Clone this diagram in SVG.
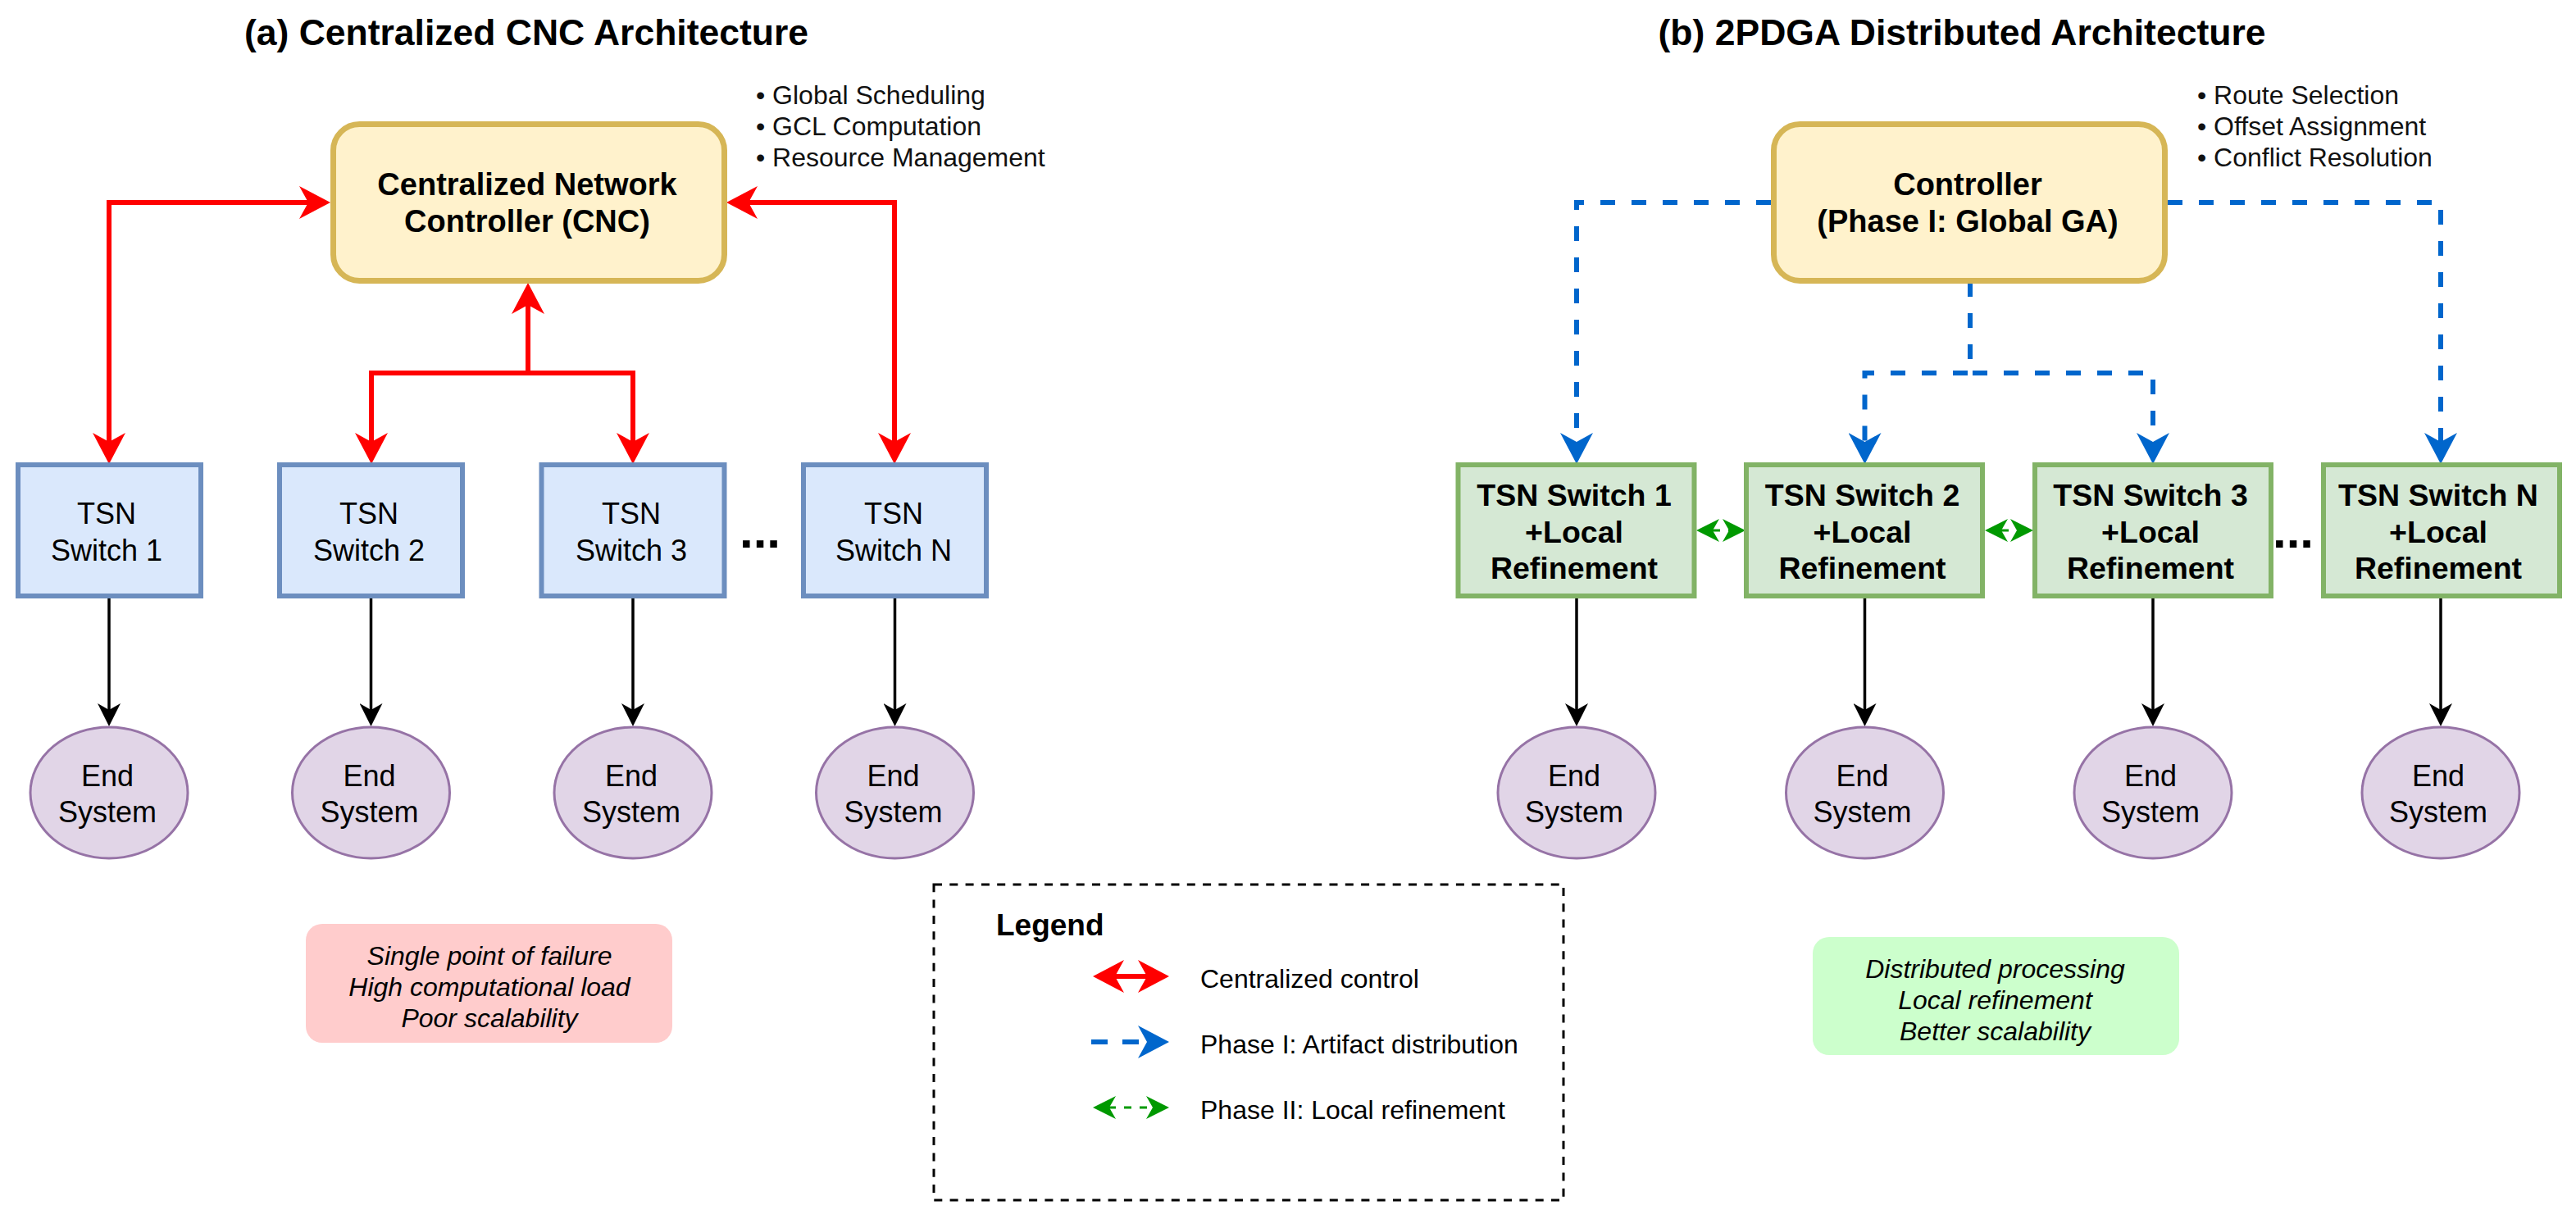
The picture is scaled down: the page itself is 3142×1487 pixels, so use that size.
<svg xmlns="http://www.w3.org/2000/svg" width="3142" height="1487" viewBox="0 0 3142 1487">
<style>
text{font-family:"Liberation Sans",Arial,sans-serif;fill:#000;text-anchor:middle}
.title{font-size:44.5px;font-weight:bold}
.ctrl{fill:#fff2cc;stroke:#d6b656;stroke-width:7}
.ctrlt{font-size:38px;font-weight:bold}
.bul{font-size:32px;text-anchor:start;fill:#111}
.sw{fill:#dae8fc;stroke:#6c8ebf;stroke-width:6}
.sw2{fill:#d5e8d4;stroke:#82b366;stroke-width:6}
.t{font-size:36px}
.tb{font-size:37.5px;font-weight:bold}
.es{fill:#e1d5e7;stroke:#9673a6;stroke-width:3}
.dots{font-size:60px;font-weight:bold;text-anchor:start}
.note{font-size:32px;font-style:italic}
.leg{font-size:32px;text-anchor:start}
.c{fill:none}
.red{stroke:#ff0000;stroke-width:6;marker-end:url(#mr)}
.blue{stroke:#0066cc;stroke-width:6;stroke-dasharray:18 20;marker-end:url(#mb)}
.black{stroke:#000;stroke-width:3.5;marker-end:url(#mk)}
.green{stroke:#009900;stroke-width:3;stroke-dasharray:9 10;marker-end:url(#mg);marker-start:url(#mg)}
.both{marker-start:url(#mr)}
</style>
<defs>
<marker id="mr" markerUnits="userSpaceOnUse" markerWidth="38" markerHeight="40" refX="11" refY="20" orient="auto-start-reverse"><path d="M0,0L38,20L0,40L11,20Z" fill="#ff0000"/></marker>
<marker id="mb" markerUnits="userSpaceOnUse" markerWidth="38" markerHeight="40" refX="11" refY="20" orient="auto-start-reverse"><path d="M0,0L38,20L0,40L11,20Z" fill="#0066cc"/></marker>
<marker id="mk" markerUnits="userSpaceOnUse" markerWidth="28" markerHeight="28" refX="8" refY="14" orient="auto-start-reverse"><path d="M0,0L28,14L0,28L8,14Z" fill="#000"/></marker>
<marker id="mg" markerUnits="userSpaceOnUse" markerWidth="28" markerHeight="28" refX="8" refY="14" orient="auto-start-reverse"><path d="M0,0L28,14L0,28L8,14Z" fill="#009900"/></marker>
</defs>
<rect width="3142" height="1487" fill="#fff"/>
<text class="title" x="642" y="55">(a) Centralized CNC Architecture</text>
<text class="title" x="2393" y="55">(b) 2PDGA Distributed Architecture</text>

<g id="connectors">
<g id="conn-a">
<path class="c red both" d="M133,539V247H376"/>
<path class="c red both" d="M1091,539V247H913"/>
<path class="c red" d="M644,455V372"/>
<path class="c red" d="M644,455H453V539"/>
<path class="c red" d="M644,455H772V539"/>
<path class="c black" d="M133,728V866"/>
<path class="c black" d="M452.500,728V866"/>
<path class="c black" d="M772,728V866"/>
<path class="c black" d="M1091.500,728V866"/>
</g>
<g id="conn-b">
<path class="c blue" d="M2160,247H1923V539"/>
<path class="c blue" d="M2644,247H2977V539"/>
<path class="c blue" d="M2403,344V455H2274.500V539"/>
<path class="c blue" d="M2403,344V455H2626V539"/>
<path class="c black" d="M1923,728V866"/>
<path class="c black" d="M2274.500,728V866"/>
<path class="c black" d="M2626,728V866"/>
<path class="c black" d="M2977,728V866"/>
<path class="c green" d="M2089,647H2109"/>
<path class="c green" d="M2441,647H2460"/>
</g>
</g>

<g id="cnc"><rect class="ctrl" x="406.500" y="151.500" width="477" height="191" rx="32"/>
<text class="ctrlt" x="643" y="238">Centralized Network</text><text class="ctrlt" x="643" y="283">Controller (CNC)</text></g>
<g id="cnc-notes"><text class="bul" x="922" y="127">• Global Scheduling</text><text class="bul" x="922" y="165">• GCL Computation</text><text class="bul" x="922" y="203">• Resource Management</text></g>

<g id="a-sw1"><rect class="sw" x="22" y="567" width="223" height="160"/><text class="t" x="130" y="639">TSN</text><text class="t" x="130" y="684">Switch 1</text></g>
<g id="a-sw2"><rect class="sw" x="341" y="567" width="223" height="160"/><text class="t" x="450" y="639">TSN</text><text class="t" x="450" y="684">Switch 2</text></g>
<g id="a-sw3"><rect class="sw" x="660.500" y="567" width="223" height="160"/><text class="t" x="770" y="639">TSN</text><text class="t" x="770" y="684">Switch 3</text></g>
<g id="a-swn"><rect class="sw" x="980" y="567" width="223" height="160"/><text class="t" x="1090" y="639">TSN</text><text class="t" x="1090" y="684">Switch N</text></g>
<text class="dots" x="902" y="668">...</text>

<g id="a-es1"><ellipse class="es" cx="133" cy="967" rx="96" ry="80"/><text class="t" x="131" y="959">End</text><text class="t" x="131" y="1003">System</text></g>
<g id="a-es2"><ellipse class="es" cx="452.500" cy="967" rx="96" ry="80"/><text class="t" x="450.500" y="959">End</text><text class="t" x="450.500" y="1003">System</text></g>
<g id="a-es3"><ellipse class="es" cx="772" cy="967" rx="96" ry="80"/><text class="t" x="770" y="959">End</text><text class="t" x="770" y="1003">System</text></g>
<g id="a-esn"><ellipse class="es" cx="1091.500" cy="967" rx="96" ry="80"/><text class="t" x="1089.500" y="959">End</text><text class="t" x="1089.500" y="1003">System</text></g>

<g id="controller"><rect class="ctrl" x="2163.500" y="151.500" width="477" height="191" rx="32"/>
<text class="ctrlt" x="2400" y="238">Controller</text><text class="ctrlt" x="2400" y="283">(Phase I: Global GA)</text></g>
<g id="controller-notes"><text class="bul" x="2680" y="127">• Route Selection</text><text class="bul" x="2680" y="165">• Offset Assignment</text><text class="bul" x="2680" y="203">• Conflict Resolution</text></g>

<g id="b-sw1"><rect class="sw2" x="1778.500" y="567" width="288" height="160"/><text class="tb" x="1920" y="617">TSN Switch 1</text><text class="tb" x="1920" y="662">+Local</text><text class="tb" x="1920" y="706">Refinement</text></g>
<g id="b-sw2"><rect class="sw2" x="2130" y="567" width="288" height="160"/><text class="tb" x="2271.500" y="617">TSN Switch 2</text><text class="tb" x="2271.500" y="662">+Local</text><text class="tb" x="2271.500" y="706">Refinement</text></g>
<g id="b-sw3"><rect class="sw2" x="2482" y="567" width="288" height="160"/><text class="tb" x="2623" y="617">TSN Switch 3</text><text class="tb" x="2623" y="662">+Local</text><text class="tb" x="2623" y="706">Refinement</text></g>
<g id="b-swn"><rect class="sw2" x="2834" y="567" width="288" height="160"/><text class="tb" x="2974" y="617">TSN Switch N</text><text class="tb" x="2974" y="662">+Local</text><text class="tb" x="2974" y="706">Refinement</text></g>
<text class="dots" x="2772" y="668">...</text>

<g id="b-es1"><ellipse class="es" cx="1923" cy="967" rx="96" ry="80"/><text class="t" x="1920" y="959">End</text><text class="t" x="1920" y="1003">System</text></g>
<g id="b-es2"><ellipse class="es" cx="2274.500" cy="967" rx="96" ry="80"/><text class="t" x="2271.500" y="959">End</text><text class="t" x="2271.500" y="1003">System</text></g>
<g id="b-es3"><ellipse class="es" cx="2626" cy="967" rx="96" ry="80"/><text class="t" x="2623" y="959">End</text><text class="t" x="2623" y="1003">System</text></g>
<g id="b-esn"><ellipse class="es" cx="2977" cy="967" rx="96" ry="80"/><text class="t" x="2974" y="959">End</text><text class="t" x="2974" y="1003">System</text></g>

<g id="note-a"><rect x="373" y="1127" width="447" height="145" rx="20" fill="#ffcccc"/>
<text class="note" x="597" y="1177">Single point of failure</text><text class="note" x="597" y="1215">High computational load</text><text class="note" x="597" y="1253">Poor scalability</text></g>
<g id="note-b"><rect x="2211" y="1143" width="447" height="144" rx="20" fill="#ccffcc"/>
<text class="note" x="2433.500" y="1193">Distributed processing</text><text class="note" x="2433.500" y="1231">Local refinement</text><text class="note" x="2433.500" y="1269">Better scalability</text></g>

<g id="legend">
<rect x="1139" y="1079" width="768" height="385" fill="none" stroke="#000" stroke-width="3" stroke-dasharray="10 9.300"/>
<text x="1215" y="1141" style="font-size:37px;font-weight:bold;text-anchor:start">Legend</text>
<path class="c red both" d="M1360,1191H1399"/>
<path class="c blue" d="M1331,1271H1399" style="stroke-dasharray:20 18"/>
<path class="c green" d="M1353,1351H1406" style="stroke-dashoffset:1"/>
<text class="leg" x="1464" y="1205">Centralized control</text>
<text class="leg" x="1464" y="1285">Phase I: Artifact distribution</text>
<text class="leg" x="1464" y="1365">Phase II: Local refinement</text>
</g>
</svg>
